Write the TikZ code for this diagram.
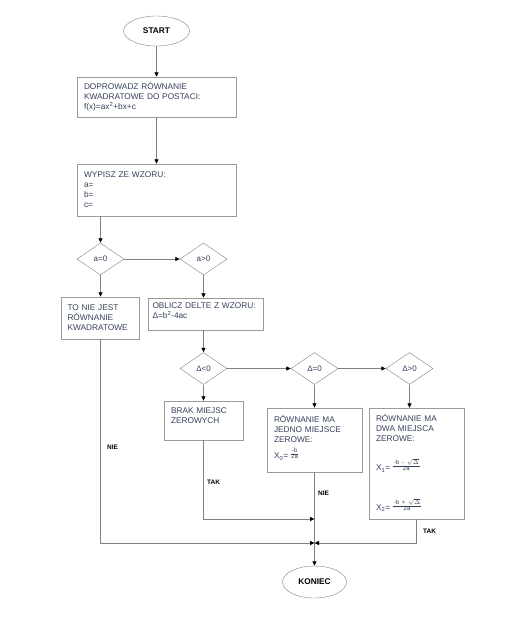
\documentclass[tikz,border=0pt]{standalone}
\usepackage{fontspec}
\setmainfont{Liberation Sans}
\usetikzlibrary{shapes.geometric,arrows.meta}
\definecolor{linegray}{HTML}{808080}
\definecolor{boxgray}{HTML}{9A9A9A}
\definecolor{txtblue}{HTML}{34405A}
\newcommand{\ulamek}[2]{{\renewcommand{\arraystretch}{0.8}\setlength{\tabcolsep}{1pt}\fontsize{6}{7}\selectfont\begin{tabular}[b]{@{}c@{}}\,#1\,\\\hline #2\end{tabular}}}
\tikzset{
  startstop/.style={ellipse,draw=linegray,inner sep=0pt,font=\fontsize{8.3}{10}\selectfont\bfseries},
  stepbox/.style={rectangle,draw=boxgray,align=left,inner xsep=7pt,inner ysep=3pt,text=txtblue,font=\fontsize{8.3}{10}\selectfont},
  decision/.style={diamond,draw=linegray,minimum width=47pt,minimum height=32pt,inner sep=0pt,text=txtblue,font=\fontsize{8}{10}\selectfont},
  link/.style={draw=linegray,line width=0.8pt},
  lbl/.style={font=\fontsize{6.5}{8}\selectfont\bfseries,anchor=west,text=black},
  >={Triangle[length=4.5pt,width=4pt,color=black]}
}
\begin{document}
\begin{tikzpicture}[x=1pt,y=-1pt]
\useasboundingbox (0,0) rectangle (516,640);
\node[startstop,minimum width=66pt,minimum height=30pt] (start) at (156.5,31) {START};
\node[stepbox,text width=145pt,minimum height=40pt] (prep) at (156.5,97) {DOPROWADZ RÓWNANIE\\ KWADRATOWE DO POSTACI:\\ f(x)=ax\textsuperscript{2}+bx+c};
\node[stepbox,text width=145pt,minimum height=52pt] (coef) at (156.5,190) {WYPISZ ZE WZORU:\\ a=\\ b=\\ c=};
\node[decision] (a0) at (100.5,259) {a=0};
\node[decision] (a1) at (203.5,259) {a>0};
\node[stepbox,text width=66pt,inner xsep=6pt,minimum height=42pt] (nokw) at (100.5,318) {TO NIE JEST\\ RÓWNANIE\\ KWADRATOWE};
\node[stepbox,text width=106pt,inner xsep=4.5pt,minimum height=32pt] (obl) at (205.5,314) {OBLICZ DELTE Z WZORU:\\ Δ=b\textsuperscript{2}-4ac\\[-3pt] \mbox{}};
\node[decision] (d1) at (203.5,368.5) {Δ<0};
\node[decision] (d2) at (314.5,368.5) {Δ=0};
\node[decision] (d3) at (409.5,368.5) {Δ>0};
\node[stepbox,text width=65pt,minimum height=39pt] (brak) at (203.5,420.5) {BRAK MIEJSC\\ ZEROWYCH\\ \mbox{}};
\node[stepbox,text width=81pt,minimum height=64pt] (jedno) at (314.5,440) {RÓWNANIE MA\\ JEDNO MIEJSCE\\ ZEROWE:\\[5pt] X\textsubscript{0}= \ulamek{-b}{2a}\\[-4pt] \mbox{}};
\node[stepbox,text width=81pt,minimum height=111pt] (dwa) at (416.5,463.5) {RÓWNANIE MA\\ DWA MIEJSCA\\ ZEROWE:\\[16pt] X\textsubscript{1}= \ulamek{-b - $\sqrt{\Delta}$}{2a}\\[25pt] X\textsubscript{2}= \ulamek{-b + $\sqrt{\Delta}$}{2a}};
\node[startstop,minimum width=64pt,minimum height=32pt] (koniec) at (314.5,582) {KONIEC};
\coordinate (j1) at (314.5,519);
\coordinate (j2) at (314.5,543);
\draw[link,->] (start.south) -- (prep.north);
\draw[link,->] (prep.south) -- (coef.north);
\draw[link,->] (coef.south -| a0.north) -- (a0.north);
\draw[link,->] (a0.east) -- (a1.west);
\draw[link,->] (a0.south) -- (nokw.north);
\draw[link,->] (a1.south) -- (a1.south |- obl.north);
\draw[link,->] (obl.south -| d1.north) -- (d1.north);
\draw[link,->] (d1.east) -- (d2.west);
\draw[link,->] (d2.east) -- (d3.west);
\draw[link,->] (d1.south) -- (brak.north);
\draw[link,->] (d2.south) -- (jedno.north);
\draw[link,->] (d3.south) -- (d3.south |- dwa.north);
\draw[link,->] (brak.south) -- node[lbl,pos=0.54]{TAK} (brak.south |- j1) -- (j1);
\draw[link,->] (jedno.south) -- node[lbl,pos=0.23]{NIE} (koniec.north);
\draw[link,->] (nokw.south) -- node[lbl,pos=0.53,xshift=3pt]{NIE} (nokw.south |- j2) -- (j2);
\draw[link,->] (dwa.south) -- node[lbl,pos=0.5,xshift=3pt]{TAK} (dwa.south |- j2) -- (j2);
\end{tikzpicture}
\end{document}
